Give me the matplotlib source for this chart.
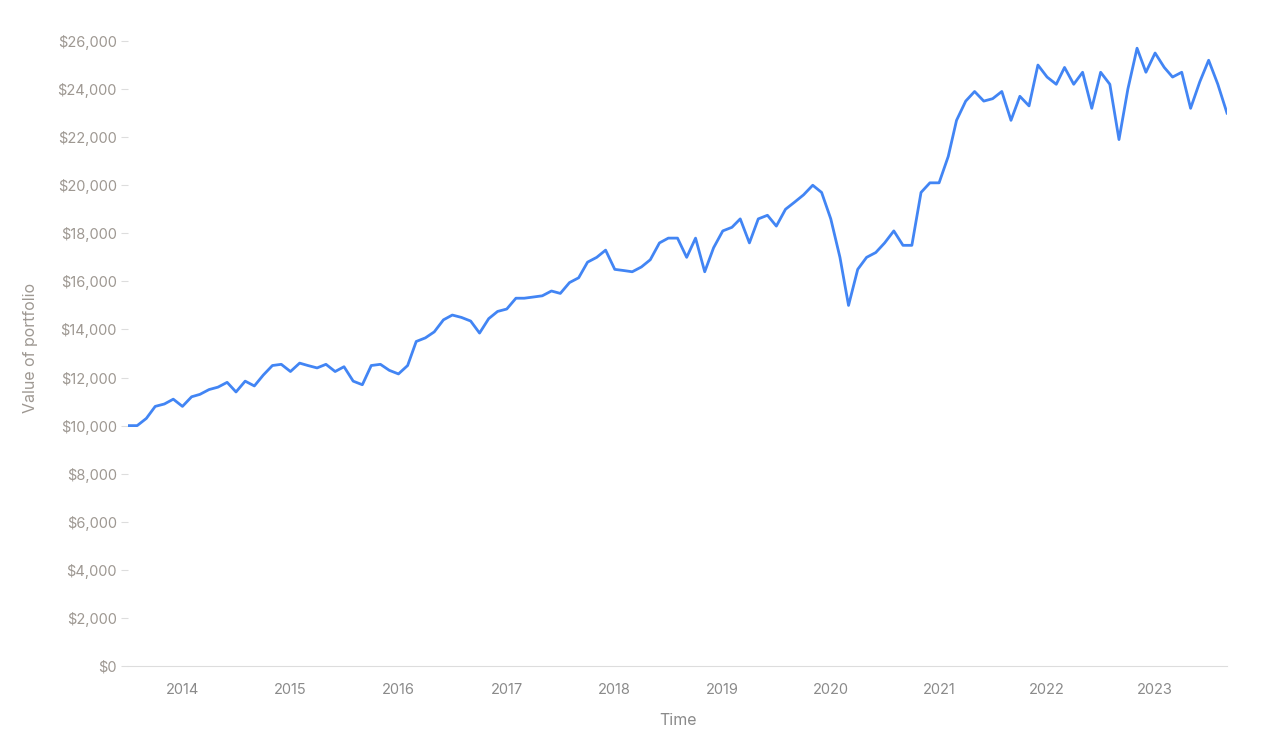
import matplotlib
matplotlib.use("Agg")
import matplotlib.pyplot as plt
import numpy as np
import pandas as pd

plt.rcParams['font.family'] = ['Inter', 'DejaVu Sans']

start = "2013-07-01"
values = [
    10000, 10000, 10300, 10800, 10900, 11100,
    10800, 11200, 11300, 11500, 11600, 11800, 11400, 11850, 11650, 12100, 12500, 12550,
    12250, 12600, 12500, 12400, 12550, 12250, 12450, 11850, 11700, 12500, 12550, 12300,
    12150, 12500, 13500, 13650, 13900, 14400, 14600, 14500, 14350, 13850, 14450, 14750,
    14850, 15300, 15300, 15350, 15400, 15600, 15500, 15950, 16150, 16800, 17000, 17300,
    16500, 16450, 16400, 16600, 16900, 17600, 17800, 17800, 17000, 17800, 16400, 17400,
    18100, 18250, 18600, 17600, 18600, 18750, 18300, 19000, 19300, 19600, 20000, 19700,
    18600, 17000, 15000, 16500, 17000, 17200, 17600, 18100, 17500, 17500, 19700, 20100,
    20100, 21200, 22700, 23500, 23900, 23500, 23600, 23900, 22700, 23700, 23300, 25000,
    24500, 24200, 24900, 24200, 24700, 23200, 24700, 24200, 21900, 24000, 25700, 24700,
    25500, 24900, 24500, 24700, 23200, 24300, 25200, 24200, 23000,
]
dates = pd.date_range(start, periods=len(values), freq="MS")
years = list(range(2014, 2024))
yticks = list(range(0, 26001, 2000))

fig = plt.figure(figsize=(12.67, 7.52), dpi=100)
ax = fig.add_axes([128/1267, 1-666/752, (1227-128)/1267, (666-30)/752])
ax.plot(dates, values, color="#4285f4", lw=2)
ax.set_xlim(dates[0], dates[-1])
ax.set_ylim(0, 26000*(636/625))
ax.set_yticks(yticks)
ax.set_yticklabels([f"${v:,}" for v in yticks])
ax.set_xticks([pd.Timestamp(f"{y}-01-01") for y in years])
ax.set_xticklabels([str(y) for y in years])
for s in ["top", "right", "left"]:
    ax.spines[s].set_visible(False)
ax.spines["bottom"].set_color("#dddddd")
ax.tick_params(axis="y", colors="#dddddd", labelcolor="#9e9892", labelsize=10.5, length=5, pad=3)
ax.tick_params(axis="x", length=0, labelcolor="#8a8a8a", labelsize=10.5, pad=12)
ax.set_ylabel("Value of portfolio", color="#9e9892", fontsize=11.5, labelpad=14)
ax.set_xlabel("Time", color="#8a8a8a", fontsize=11.5, labelpad=12)
fig.savefig("out.png")
